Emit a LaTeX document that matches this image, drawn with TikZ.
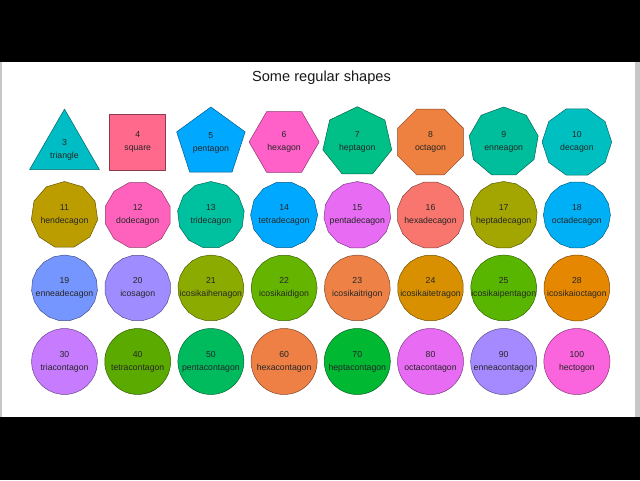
\documentclass[tikz,border=0pt]{standalone}
\usepackage{fontspec}
\setmainfont{Liberation Sans}
\definecolor{c3}{HTML}{00BCC4}
\definecolor{c4}{HTML}{FF698C}
\definecolor{c5}{HTML}{00A8FF}
\definecolor{c6}{HTML}{FF61C9}
\definecolor{c7}{HTML}{00BF87}
\definecolor{c8}{HTML}{EE8040}
\definecolor{c9}{HTML}{00BE9C}
\definecolor{c10}{HTML}{00BFC0}
\definecolor{c11}{HTML}{BB9D00}
\definecolor{c12}{HTML}{FF62BC}
\definecolor{c13}{HTML}{00C19F}
\definecolor{c14}{HTML}{00A9FF}
\definecolor{c15}{HTML}{E76BF3}
\definecolor{c16}{HTML}{F8766D}
\definecolor{c17}{HTML}{A3A500}
\definecolor{c18}{HTML}{00B0F6}
\definecolor{c19}{HTML}{7696FF}
\definecolor{c20}{HTML}{9F8CFF}
\definecolor{c21}{HTML}{8CAB00}
\definecolor{c22}{HTML}{64B400}
\definecolor{c23}{HTML}{EE8246}
\definecolor{c24}{HTML}{D89000}
\definecolor{c25}{HTML}{58B600}
\definecolor{c28}{HTML}{E58700}
\definecolor{c30}{HTML}{C77CFF}
\definecolor{c40}{HTML}{5AAA00}
\definecolor{c50}{HTML}{00BA5E}
\definecolor{c60}{HTML}{EE8046}
\definecolor{c70}{HTML}{00B832}
\definecolor{c80}{HTML}{E76BF3}
\definecolor{c90}{HTML}{A58AFF}
\definecolor{c100}{HTML}{FA64DC}
\tikzset{
  shapelbl/.style={align=center, text=black!85, inner sep=0pt,
    font=\fontsize{8.7}{13}\selectfont},
  polyfill/.style={fill=#1, draw=#1!55!black, line width=0.5pt, line join=round}
}
% name, cx, cy (image px), sides, radius, colour, number, label
\newcommand{\rpoly}[8]{%
  \pgfmathsetmacro{\cyy}{480-#3}%
  \pgfmathsetmacro{\stp}{360/#4}%
  \pgfmathsetmacro{\offs}{-90+180/#4}%
  \begin{scope}[shift={(#2,\cyy)}]
    \filldraw[polyfill=#6] (\offs:#5)
      \foreach \k in {1,...,#4}{ -- ({\offs+\stp*\k}:#5) } -- cycle;
  \end{scope}
  \node[shapelbl] (#1) at (#2,\cyy) {#7\\#8};
}
\begin{document}
\begin{tikzpicture}[x=1pt,y=1pt]
\useasboundingbox (0,0) rectangle (640,480);
\fill[black] (0,0) rectangle (640,480);
\fill[black!22] (0,63) rectangle (640,418);
\fill[white] (2,63) rectangle (635,418);
\node[font=\fontsize{14.6}{17}\selectfont, text=black!90] (title) at (321.5,402) {Some regular shapes};
% row 1
\rpoly{s3}{64.5}{149.5}{3}{40.4}{c3}{3}{triangle}
\rpoly{s4}{137.7}{142}{4}{39.6}{c4}{4}{square}
\rpoly{s5}{210.9}{143}{5}{36}{c5}{5}{pentagon}
\rpoly{s6}{284.1}{142}{6}{35}{c6}{6}{hexagon}
\rpoly{s7}{357.3}{142}{7}{35.3}{c7}{7}{heptagon}
\rpoly{s8}{430.5}{142}{8}{35.7}{c8}{8}{octagon}
\rpoly{s9}{503.7}{142}{9}{35}{c9}{9}{enneagon}
\rpoly{s10}{576.9}{142}{10}{34.8}{c10}{10}{decagon}
% row 2
\rpoly{s11}{64.5}{215}{11}{33.5}{c11}{11}{hendecagon}
\rpoly{s12}{137.7}{215}{12}{33.5}{c12}{12}{dodecagon}
\rpoly{s13}{210.9}{215}{13}{33.5}{c13}{13}{tridecagon}
\rpoly{s14}{284.1}{215}{14}{33.5}{c14}{14}{tetradecagon}
\rpoly{s15}{357.3}{215}{15}{33.5}{c15}{15}{pentadecagon}
\rpoly{s16}{430.5}{215}{16}{33.5}{c16}{16}{hexadecagon}
\rpoly{s17}{503.7}{215}{17}{33.5}{c17}{17}{heptadecagon}
\rpoly{s18}{576.9}{215}{18}{33.5}{c18}{18}{octadecagon}
% row 3
\rpoly{s19}{64.5}{288}{19}{33}{c19}{19}{enneadecagon}
\rpoly{s20}{137.7}{288}{20}{33}{c20}{20}{icosagon}
\rpoly{s21}{210.9}{288}{21}{33}{c21}{21}{icosikaihenagon}
\rpoly{s22}{284.1}{288}{22}{33}{c22}{22}{icosikaidigon}
\rpoly{s23}{357.3}{288}{23}{33}{c23}{23}{icosikaitrigon}
\rpoly{s24}{430.5}{288}{24}{33}{c24}{24}{icosikaitetragon}
\rpoly{s25}{503.7}{288}{25}{33}{c25}{25}{icosikaipentagon}
\rpoly{s28}{576.9}{288}{28}{33}{c28}{28}{icosikaioctagon}
% row 4
\rpoly{s30}{64.5}{361.5}{30}{33}{c30}{30}{triacontagon}
\rpoly{s40}{137.7}{361.5}{40}{33}{c40}{40}{tetracontagon}
\rpoly{s50}{210.9}{361.5}{50}{33}{c50}{50}{pentacontagon}
\rpoly{s60}{284.1}{361.5}{60}{33}{c60}{60}{hexacontagon}
\rpoly{s70}{357.3}{361.5}{70}{33}{c70}{70}{heptacontagon}
\rpoly{s80}{430.5}{361.5}{80}{33}{c80}{80}{octacontagon}
\rpoly{s90}{503.7}{361.5}{90}{33}{c90}{90}{enneacontagon}
\rpoly{s100}{576.9}{361.5}{100}{33}{c100}{100}{hectogon}
\end{tikzpicture}
\end{document}
